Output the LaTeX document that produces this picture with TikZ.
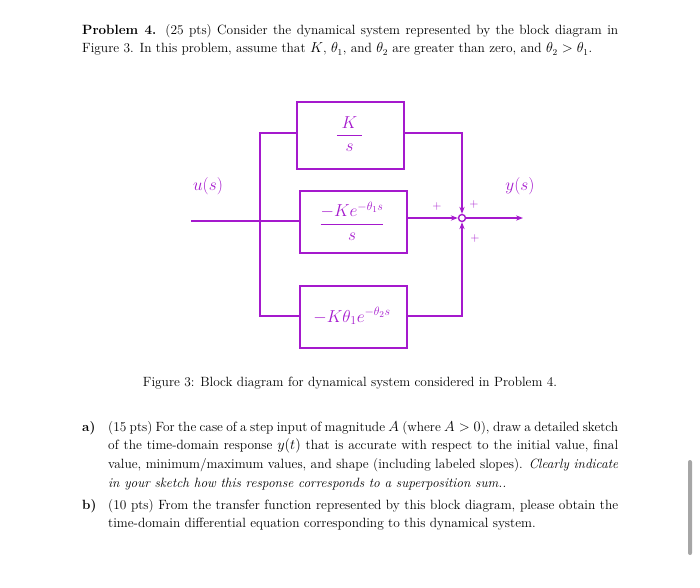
\documentclass[tikz,border=0pt]{standalone}
\usetikzlibrary{arrows.meta}
\definecolor{pen}{RGB}{165,25,205}
\begin{document}
\begin{tikzpicture}[x=1pt,y=-1pt,
  blk/.style={draw=pen,line width=1.6pt,minimum width=107pt,anchor=north west,inner sep=0pt},
  wire/.style={draw=pen,line width=1.6pt},
  hand/.style={text=pen,font=\fontsize{18}{20}\selectfont},
  pm/.style={text=pen,font=\fontsize{13}{14}\selectfont,inner sep=0pt},
  para/.style={anchor=north west,align=justify,font=\fontsize{13.4}{18.6}\selectfont,inner sep=0pt}]
\useasboundingbox (0,0) rectangle (700,587);
\node[para,text width=536pt] (p) at (82,24) {\textbf{Problem 4.} (25 pts) Consider the dynamical system represented by the block diagram in Figure 3. In this problem, assume that $K$, $\theta_1$, and $\theta_2$ are greater than zero, and $\theta_2>\theta_1$.};
% blocks
\node[blk,minimum height=67pt] (b1) at (296,101) {};
\node[hand] (t1) at (349.5,134) {$\displaystyle\frac{\;K\;}{s}$};
\node[blk,minimum height=62pt] (b2) at (299,190) {};
\node[hand] (t2) at (352,221) {$\displaystyle\frac{-Ke^{-\theta_1 s}}{s}$};
\node[blk,minimum height=62pt] (b3) at (299,285) {};
\node[hand] (t3) at (352,316) {$-K\theta_1e^{-\theta_2 s}$};
\node[draw=pen,line width=1.4pt,circle,minimum size=7pt,inner sep=0pt] (sum) at (462,218) {};
\coordinate (in) at (191,221);
\coordinate (out) at (523,218);
\coordinate (lt) at (260,133);
\coordinate (lb) at (260,316);
\coordinate (rt) at (462,133);
\coordinate (rb) at (462,316);
\draw[wire] (in) -- (b2.west|-in);
\draw[wire] (b1.west|-lt) -- (lt) -- (lb) -- (b3.west|-lb);
\draw[wire,-{Stealth[length=7pt]}] (b1.east|-rt) -- (rt) -- (sum.north);
\draw[wire,-{Stealth[length=7pt]}] (b3.east|-rb) -- (rb) -- (sum.south);
\draw[wire,-{Stealth[length=7pt]}] (b2.east|-sum) -- (sum.west);
\draw[wire,-{Stealth[length=7pt]}] (sum.east) -- (out);
\node[hand] (u) at (208,186) {$u(s)$};
\node[hand] (y) at (520,186) {$y(s)$};
\node[pm] (pl) at (437,206) {$+$};
\node[pm] (pt) at (474,204) {$+$};
\node[pm] (pb) at (475,238) {$+$};
\node[anchor=north,font=\fontsize{13.4}{16}\selectfont,inner sep=0pt] (cap) at (350,377) {Figure 3: Block diagram for dynamical system considered in Problem 4.};
\node[para] (la) at (82,421) {\textbf{a)}};
\node[para,text width=510pt] (a) at (108,421) {(15 pts) For the case of a step input of magnitude $A$ (where $A>0$), draw a detailed sketch of the time-domain response $y(t)$ that is accurate with respect to the initial value, final value, minimum/maximum values, and shape (including labeled slopes). \textit{Clearly indicate in your sketch how this response corresponds to a superposition sum..}};
\node[para] (lb2) at (82,499) {\textbf{b)}};
\node[para,text width=510pt] (b) at (108,499) {(10 pts) From the transfer function represented by this block diagram, please obtain the time-domain differential equation corresponding to this dynamical system.};
\fill[gray!70,rounded corners=2pt] (688,460) rectangle (692,555);
\end{tikzpicture}
\end{document}
